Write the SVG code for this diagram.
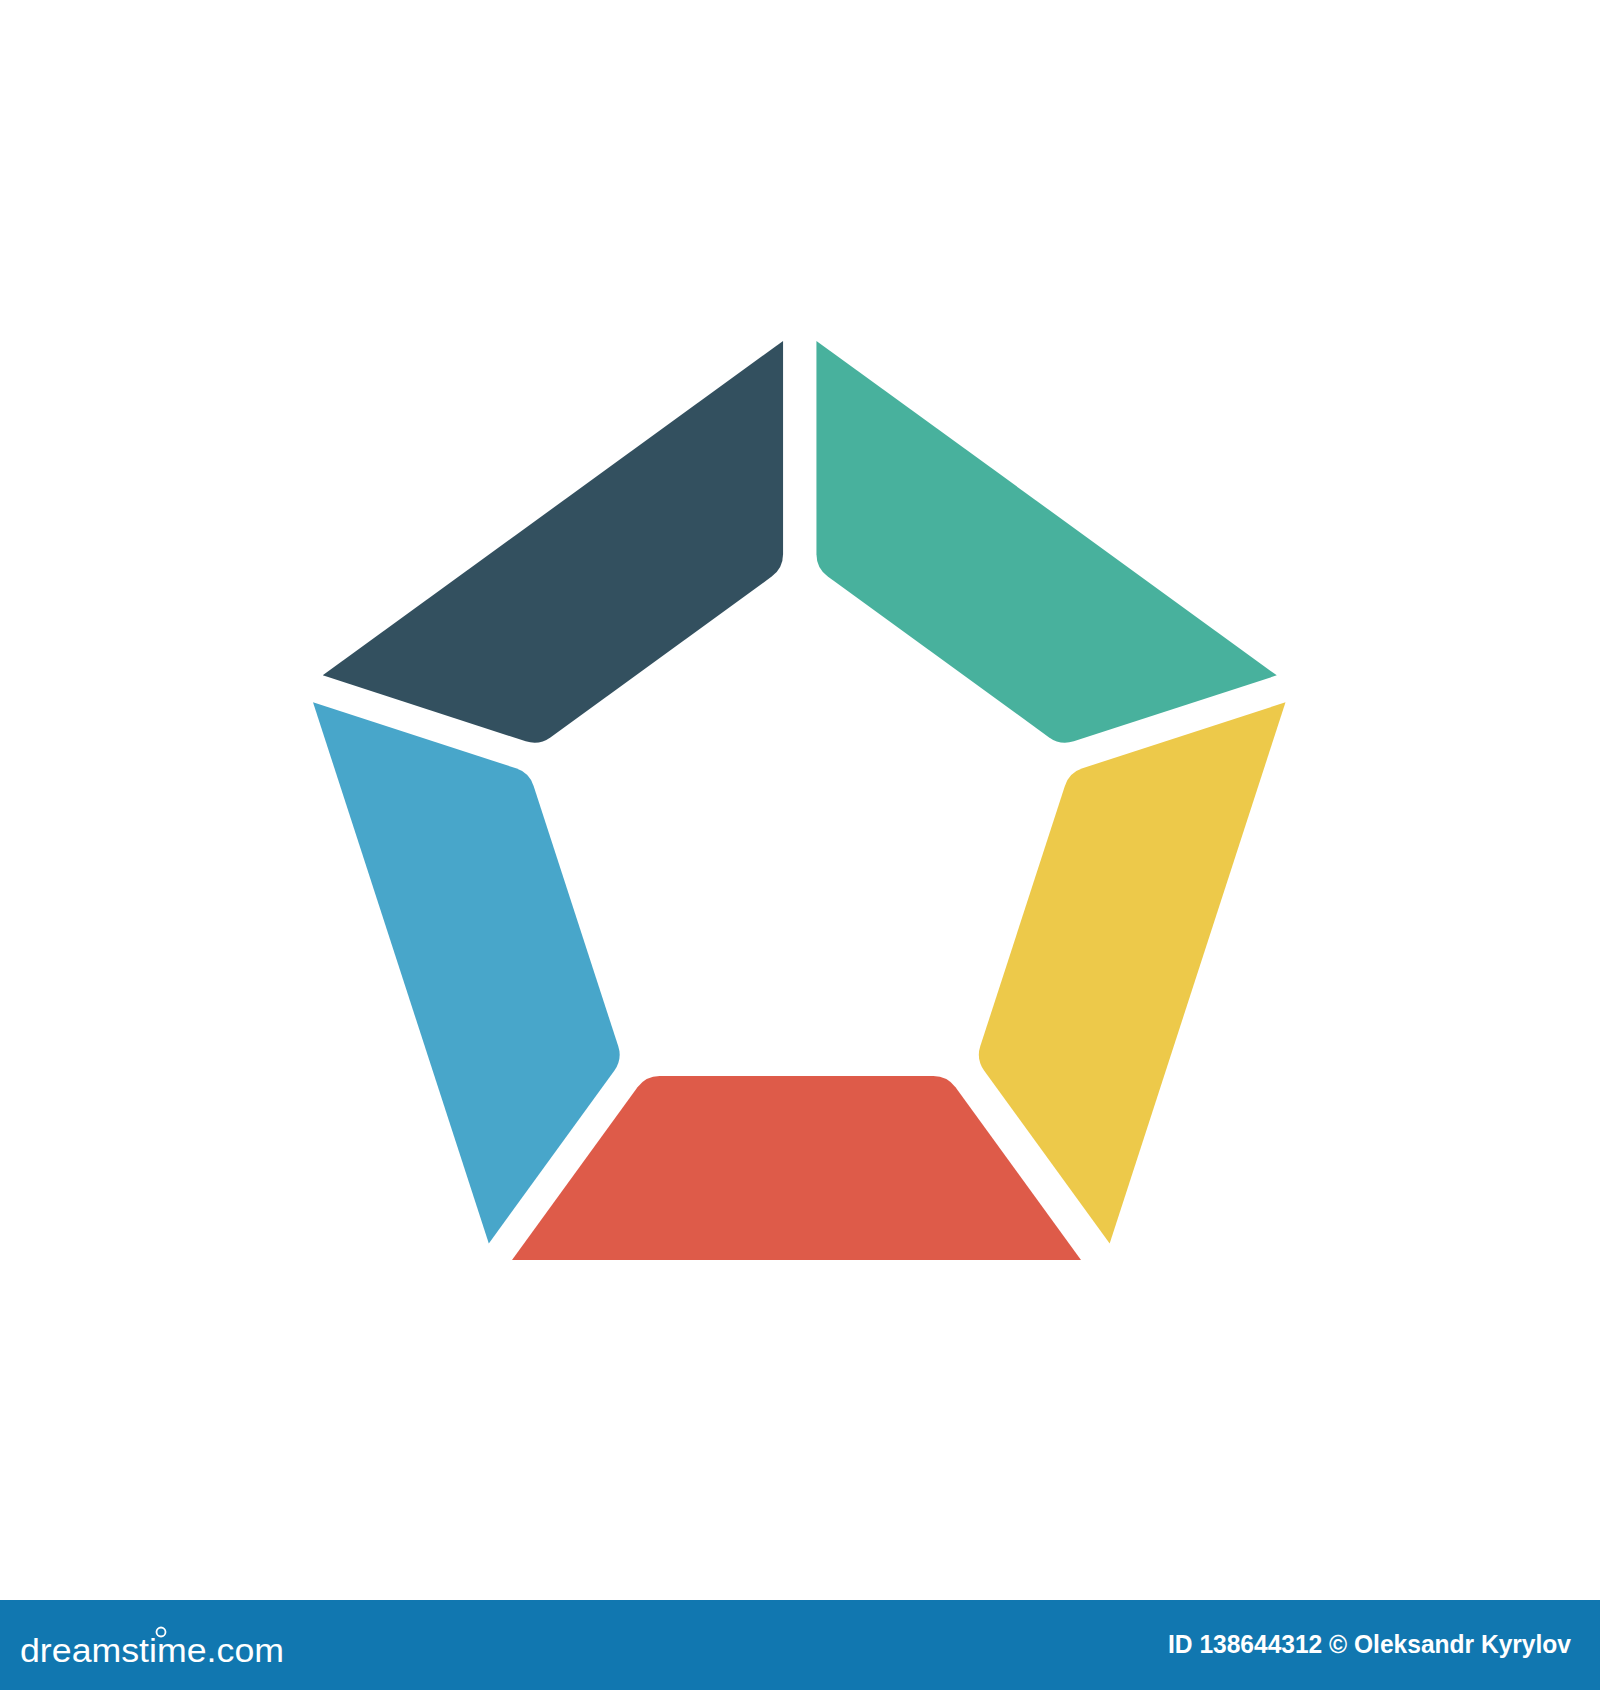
<svg xmlns="http://www.w3.org/2000/svg" xmlns:xlink="http://www.w3.org/1999/xlink" width="1600" height="1690" viewBox="0 0 1600 1690">
  <style>
    .footer-text { fill: #ffffff; font-family: "Liberation Sans", Arial, sans-serif; }
    .logo { font-size: 33px; }
    .credit { font-size: 25px; font-weight: bold; }
  </style>
  <defs>
    <path id="seg" d="M -284.5 417 L -159.03 244.33 A 27.5 27.5 0 0 1 -136.8 233 L 136.8 233 A 27.5 27.5 0 0 1 159.03 244.33 L 284.5 417 Z"/>
  </defs>
  <rect x="0" y="0" width="1600" height="1690" fill="#ffffff"/>

  <g id="segment-dark" transform="translate(798,845.5) rotate(144)">
    <use xlink:href="#seg" href="#seg" fill="#33505F"/>
  </g>
  <g id="segment-teal" transform="translate(801.5,845.5) rotate(216)">
    <use xlink:href="#seg" href="#seg" fill="#48B19D"/>
  </g>
  <g id="segment-yellow" transform="translate(801,844) rotate(288)">
    <use xlink:href="#seg" href="#seg" fill="#EDC94A"/>
  </g>
  <g id="segment-red" transform="translate(796.5,843)">
    <use xlink:href="#seg" href="#seg" fill="#DE5B49"/>
  </g>
  <g id="segment-blue" transform="translate(797.5,844) rotate(72)">
    <use xlink:href="#seg" href="#seg" fill="#48A6CA"/>
  </g>

  <g id="connectors"></g>

  <g id="footer">
    <rect x="0" y="1600" width="1600" height="90" fill="#1177B0"/>
    <circle cx="161" cy="1632" r="4.5" fill="none" stroke="#ffffff" stroke-width="1.8"/>
    <text class="footer-text logo" x="20" y="1662" textLength="264" lengthAdjust="spacingAndGlyphs">dreamstime.com</text>
    <text class="footer-text credit" x="1168" y="1653" textLength="403" lengthAdjust="spacingAndGlyphs">ID 138644312 © Oleksandr Kyrylov</text>
  </g>
</svg>
